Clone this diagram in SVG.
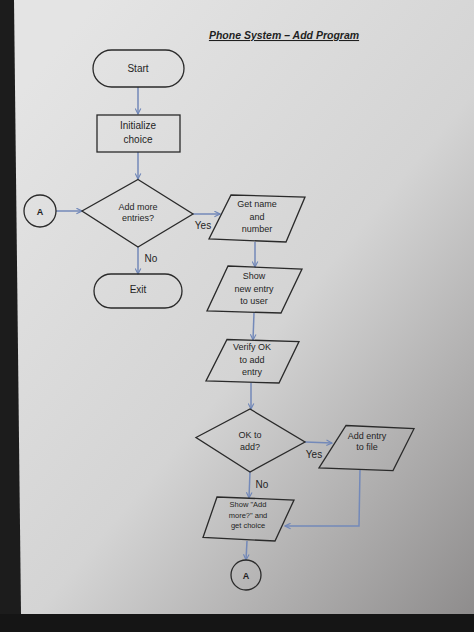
<svg xmlns="http://www.w3.org/2000/svg" width="474" height="632" viewBox="0 0 474 632">
<defs>
<linearGradient id="paper" x1="0.15" y1="0.05" x2="1" y2="1">
<stop offset="0" stop-color="#e4e4e4"/>
<stop offset="0.5" stop-color="#d4d4d4"/>
<stop offset="1" stop-color="#8c8a8a"/>
</linearGradient>
<marker id="arr" viewBox="0 0 10 10" refX="9" refY="5" markerWidth="7" markerHeight="7" orient="auto" markerUnits="userSpaceOnUse">
<path d="M1,1 L9,5 L1,9" fill="none" stroke="#6f86b8" stroke-width="1.6"/>
</marker>
<style>
.s{fill:none;stroke:#2a2a2a;stroke-width:1.3}
.c{fill:none;stroke:#7389b9;stroke-width:1.5}
text{font-family:"Liberation Sans",Arial,sans-serif;fill:#1f1f1f;text-anchor:middle;font-size:9px}
.lbl{font-size:10px}
.sm{font-size:7.5px}
.b{font-weight:bold}
</style>
</defs>
<rect x="0" y="0" width="474" height="632" fill="url(#paper)"/>
<polygon points="0,0 14,0 21,615 0,615" fill="#1c1c1c"/>
<rect x="0" y="614" width="474" height="18" fill="#151515"/>
<text x="284" y="39" style="font-size:10.5px;font-weight:bold;font-style:italic;text-decoration:underline">Phone System – Add Program</text>

<g id="connectors">
<line class="c" x1="138" y1="87" x2="138" y2="114" marker-end="url(#arr)"/>
<line class="c" x1="138" y1="152" x2="138" y2="179" marker-end="url(#arr)"/>
<line class="c" x1="56" y1="211" x2="82" y2="211" marker-end="url(#arr)"/>
<line class="c" x1="193" y1="214" x2="220" y2="214" marker-end="url(#arr)"/>
<line class="c" x1="138" y1="247" x2="138" y2="274" marker-end="url(#arr)"/>
<line class="c" x1="255" y1="242" x2="255" y2="267" marker-end="url(#arr)"/>
<line class="c" x1="254" y1="313" x2="253" y2="340" marker-end="url(#arr)"/>
<line class="c" x1="251" y1="383" x2="251" y2="409" marker-end="url(#arr)"/>
<line class="c" x1="305" y1="442" x2="332" y2="443" marker-end="url(#arr)"/>
<line class="c" x1="250" y1="472" x2="249" y2="498" marker-end="url(#arr)"/>
<polyline class="c" points="360,470 359,526 285,526" marker-end="url(#arr)"/>
<line class="c" x1="247" y1="541" x2="246" y2="560" marker-end="url(#arr)"/>
<text x="203" y="229" class="lbl">Yes</text>
<text x="151" y="262" class="lbl">No</text>
<text x="314" y="458" class="lbl">Yes</text>
<text x="262" y="488" class="lbl">No</text>
</g>

<g id="start">
<rect class="s" x="93" y="50" width="91" height="37" rx="18.5"/>
<text x="138" y="72" class="lbl">Start</text>
</g>
<g id="init">
<rect class="s" x="97" y="115" width="83" height="37"/>
<text x="138" y="129" class="lbl">Initialize</text>
<text x="138" y="143" class="lbl">choice</text>
</g>
<g id="connA1">
<circle class="s" cx="40" cy="211" r="16"/>
<text x="40" y="215" class="b">A</text>
</g>
<g id="addmore">
<polygon class="s" points="138,179.5 193,214 138,247 82,211"/>
<text x="138" y="210">Add more</text>
<text x="138" y="221">entries?</text>
</g>
<g id="exit">
<rect class="s" x="94" y="274" width="88" height="34" rx="17"/>
<text x="138" y="293" class="lbl">Exit</text>
</g>
<g id="getname">
<polygon class="s" points="231,195 305,197 286,242 209,239"/>
<text x="257" y="207">Get name</text>
<text x="257" y="220">and</text>
<text x="257" y="232">number</text>
</g>
<g id="shownew">
<polygon class="s" points="228,266 302,269 281,313 207,311"/>
<text x="254" y="279">Show</text>
<text x="254" y="292">new entry</text>
<text x="254" y="304">to user</text>
</g>
<g id="verify">
<polygon class="s" points="227,339.5 299,341.5 279,383 206,381"/>
<text x="252" y="350">Verify OK</text>
<text x="252" y="363">to add</text>
<text x="252" y="375">entry</text>
</g>
<g id="oktoadd">
<polygon class="s" points="250,409 305,442 250,472 196,437.5"/>
<text x="250" y="438">OK to</text>
<text x="250" y="450">add?</text>
</g>
<g id="addentry">
<polygon class="s" points="346,425.5 414,428.7 393,470.6 319,468"/>
<text x="367" y="439">Add entry</text>
<text x="367" y="450">to file</text>
</g>
<g id="showaddmore">
<polygon class="s" points="217,497 294,500 275,541 203,537.5"/>
<text x="248" y="507" class="sm">Show "Add</text>
<text x="248" y="518" class="sm">more?" and</text>
<text x="248" y="528" class="sm">get choice</text>
</g>
<g id="connA2">
<circle class="s" cx="246" cy="575" r="15"/>
<text x="246" y="579" class="b">A</text>
</g>
</svg>
